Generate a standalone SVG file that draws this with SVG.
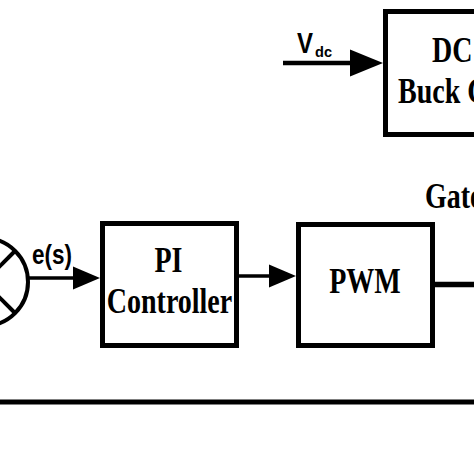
<svg xmlns="http://www.w3.org/2000/svg" width="474" height="474" viewBox="0 0 474 474">
<style>
.box{fill:#fff;stroke:#000;stroke-width:5}
.ln{stroke:#000;fill:none}
.serif{font-family:"Liberation Serif","Times New Roman",serif;font-weight:bold;font-size:35px;fill:#000}
.sans{font-family:"Liberation Sans",Arial,sans-serif;font-weight:bold;fill:#000}
.ah{fill:#000}
</style>
<rect width="474" height="474" fill="#fff"/>
<g id="connectors">
<line class="ln" x1="283" y1="63" x2="352" y2="63" stroke-width="4.5"/>
<polygon class="ah" points="350,49.5 383,63 350,76.5"/>
<line class="ln" x1="28" y1="278" x2="75" y2="278" stroke-width="3.5"/>
<polygon class="ah" points="73,266.5 100,278 73,289.5"/>
<line class="ln" x1="238" y1="276" x2="271" y2="276" stroke-width="3.5"/>
<polygon class="ah" points="269,264.5 296,276 269,287.5"/>
<line class="ln" x1="435" y1="284.5" x2="474" y2="284.5" stroke-width="5.5"/>
<line class="ln" x1="0" y1="402" x2="474" y2="402" stroke-width="5"/>
</g>
<g id="sum">
<circle cx="-16" cy="282" r="44" fill="#fff" stroke="#000" stroke-width="4"/>
<line class="ln" x1="-47" y1="251" x2="15" y2="313" stroke-width="4"/>
<line class="ln" x1="-47" y1="313" x2="15" y2="251" stroke-width="4"/>
</g>
<g id="dc-buck">
<rect class="box" x="385.5" y="11.5" width="120" height="123"/>
<text class="serif" transform="translate(432,62) scale(0.8,1)">DC</text>
<text class="serif" transform="translate(398,103) scale(0.8,1)">Buck C</text>
</g>
<g id="pi">
<rect class="box" x="102.5" y="223.5" width="134" height="122"/>
<text class="serif" text-anchor="middle" transform="translate(168.5,272) scale(0.8,1)">PI</text>
<text class="serif" text-anchor="middle" transform="translate(169.5,313) scale(0.8,1)">Controller</text>
</g>
<g id="pwm">
<rect class="box" x="298.5" y="224.5" width="134" height="121"/>
<text class="serif" text-anchor="middle" transform="translate(365,293) scale(0.8,1)">PWM</text>
</g>
<g id="labels">
<text class="sans" x="32" y="264" font-size="27" textLength="40" lengthAdjust="spacingAndGlyphs">e(s)</text>
<text class="sans" x="297" y="53" font-size="29" textLength="16" lengthAdjust="spacingAndGlyphs">V</text>
<text class="sans" x="315" y="57" font-size="15" textLength="17" lengthAdjust="spacingAndGlyphs">dc</text>
<text class="serif" transform="translate(425,208) scale(0.8,1)">Gate</text>
</g>
</svg>
